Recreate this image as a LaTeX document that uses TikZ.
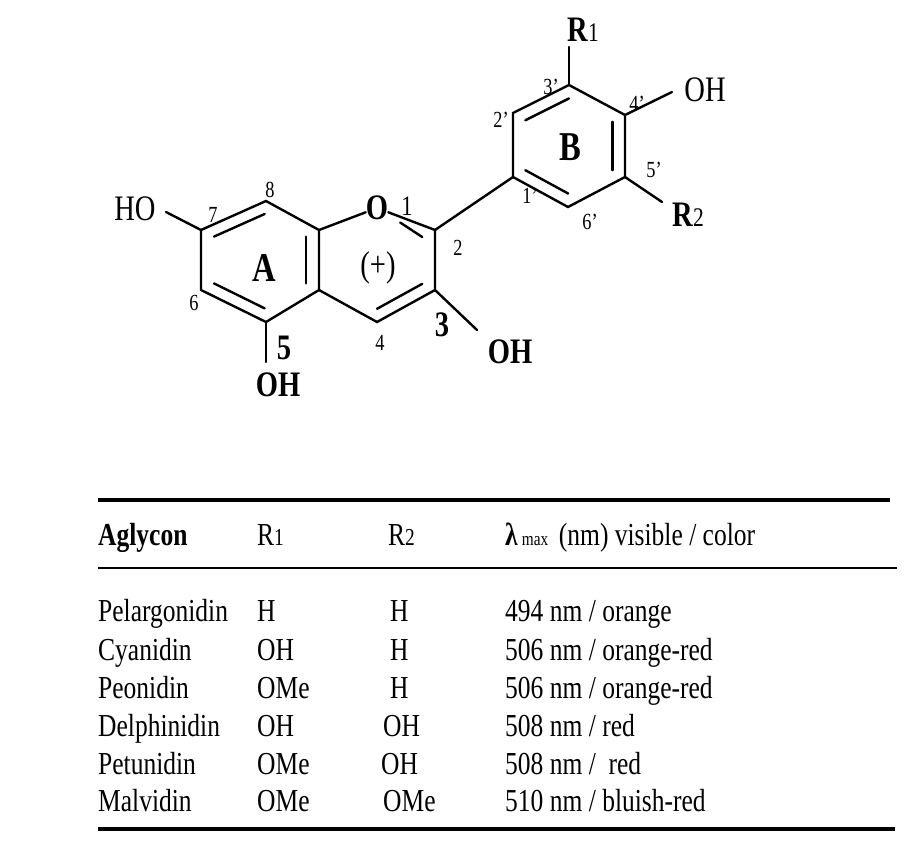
\documentclass[tikz,border=0pt]{standalone}
\usepackage{fontspec}
\setmainfont{Liberation Serif}
\usetikzlibrary{calc}
\newcommand\vs[1]{\scalebox{1.02}[1.28]{#1}}
\begin{document}
\begin{tikzpicture}[x=1pt,y=-1pt,
  bond/.style={line width=2.4pt,line cap=round},
  rule/.style={line width=3.6pt},
  thin/.style={line width=1.4pt},
  lab/.style={font=\fontsize{18}{18}\selectfont,inner sep=0pt},
  big/.style={font=\fontsize{28}{28}\selectfont,inner sep=0pt},
  bigb/.style={font=\fontsize{28}{28}\selectfont\bfseries,inner sep=0pt},
  ringl/.style={font=\fontsize{32}{32}\selectfont\bfseries,inner sep=0pt},
  cell/.style={font=\fontsize{25}{25}\selectfont,inner sep=0pt,anchor=base west}]
\useasboundingbox (0,0) rectangle (923,847);
% atoms
\coordinate (C7) at (201,230);
\coordinate (C8) at (266,201);
\coordinate (C8a) at (319,230);
\coordinate (C4a) at (319,290);
\coordinate (C5) at (266,322);
\coordinate (C6) at (201,290);
\coordinate (O1c) at (377,205);
\node[bigb] (O1) at (377,208) {\vs{O}};
\coordinate (C2) at (435,230);
\coordinate (C3) at (435,290);
\coordinate (C4) at (377,322);
\coordinate (C1p) at (513,177);
\coordinate (C2p) at (513,113);
\coordinate (C3p) at (569,85);
\coordinate (C4p) at (625,115);
\coordinate (C5p) at (625,177);
\coordinate (C6p) at (568,207);
\coordinate (cA) at (260,260);
\coordinate (cC) at (377,262);
\coordinate (cB) at (569,146);
% substituent ends
\coordinate (eHO) at (166,212);
\coordinate (eO5) at (266,362);
\coordinate (eO3) at (477,330);
\coordinate (eR1) at (569,47);
\coordinate (eO4p) at (672,92);
\coordinate (eR2) at (662,202);
% bonds
\draw[bond] (C7)--(C8)--(C8a)--(C4a)--(C5)--(C6)--cycle;
\draw[bond] (C8a)--(O1);
\draw[bond] (O1)--(C2)--(C3)--(C4)--(C4a);
\draw[bond] (C2)--(C1p);
\draw[bond] (C1p)--(C2p)--(C3p)--(C4p)--(C5p)--(C6p)--cycle;
\draw[bond] (C7)--(eHO);
\draw[bond] (C5)--(eO5);
\draw[bond] (C3)--(eO3);
\draw[bond] (C3p)--(eR1);
\draw[bond] (C4p)--(eO4p);
\draw[bond] (C5p)--(eR2);
% inner double bond lines
\foreach \a/\b/\c in {C7/C8/cA, C8a/C4a/cA, C5/C6/cA, C3/C4/cC, C2p/C3p/cB, C4p/C5p/cB, C1p/C6p/cB}
  \draw[bond] ($(\c)!0.78!(\a)$) -- ($(\c)!0.78!(\b)$);
\draw[bond] ($(cC)!0.78!(O1c)!0.4!(C2)$) -- ($(cC)!0.78!(C2)$);
% substituent labels
\node[big] (tHO) at (135,209) {\vs{HO}};
\node[bigb] (tO5) at (278,385) {\vs{OH}};
\node[bigb] (tO3) at (510,352) {\vs{OH}};
\node[bigb] (tR1) at (583,30) {\vs{R\textmd{\fontsize{21}{21}\selectfont 1}}};
\node[big] (tO4p) at (705,90) {\vs{OH}};
\node[bigb] (tR2) at (688,215) {\vs{R\textmd{\fontsize{21}{21}\selectfont 2}}};
% ring labels
\node[ringl] (rA) at (264,268) {\vs{A}};
\node[ringl] (rB) at (570,147) {\vs{B}};
\node[font=\fontsize{28}{28}\selectfont,inner sep=0pt] (rC) at (378,268) {\vs{(+)}};
% numbering
\node[lab] (n8) at (270,190) {\vs{8}};
\node[lab] (n7) at (213,215) {\vs{7}};
\node[lab] (n6) at (194,303) {\vs{6}};
\node[bigb] (n5) at (284,348) {\vs{5}};
\node[lab] (n4) at (380,343) {\vs{4}};
\node[bigb] (n3) at (442,325) {\vs{3}};
\node[lab] (n2) at (458,248) {\vs{2}};
\node[font=\fontsize{22}{22}\selectfont,inner sep=0pt] (n1) at (407,206) {\vs{1}};
\node[lab] (n1p) at (530,196) {\vs{1'}};
\node[lab] (n2p) at (501,120) {\vs{2'}};
\node[lab] (n3p) at (551,87) {\vs{3'}};
\node[lab] (n4p) at (637,104) {\vs{4'}};
\node[lab] (n5p) at (654,170) {\vs{5'}};
\node[lab] (n6p) at (590,222) {\vs{6'}};
% table
\coordinate (t1l) at (98,500); \coordinate (t1r) at (890,500);
\coordinate (t2l) at (98,568); \coordinate (t2r) at (897,568);
\coordinate (t3l) at (98,829); \coordinate (t3r) at (895,829);
\draw[rule] (t1l)--(t1r);
\draw[thin] (t2l)--(t2r);
\draw[rule] (t3l)--(t3r);
\node[cell,font=\fontsize{25}{25}\selectfont\bfseries] (hA) at (98,545) {\vs{Aglycon}};
\node[cell] (hR1) at (257,545) {\vs{R\fontsize{19}{19}\selectfont 1}};
\node[cell] (hR2) at (388,545) {\vs{R\fontsize{19}{19}\selectfont 2}};
\node[cell] (hL) at (505,545) {\vs{{\bfseries λ}\,{\fontsize{15}{15}\selectfont max}\, (nm) visible / color}};
\foreach \y/\n/\ra/\rb/\rbx/\v in {
  621/Pelargonidin/H/H/390/{494 nm / orange},
  660/Cyanidin/OH/H/390/{506 nm / orange-red},
  698/Peonidin/OMe/H/390/{506 nm / orange-red},
  736/Delphinidin/OH/OH/383/{508 nm / red},
  774/Petunidin/OMe/OH/381/{508 nm /\ \ red},
  811/Malvidin/OMe/OMe/383/{510 nm / bluish-red}}{
  \node[cell] at (98,\y) {\vs{\n}};
  \node[cell] at (257,\y) {\vs{\ra}};
  \node[cell] at (\rbx,\y) {\vs{\rb}};
  \node[cell] at (505,\y) {\vs{\v}};
}
\end{tikzpicture}
\end{document}
